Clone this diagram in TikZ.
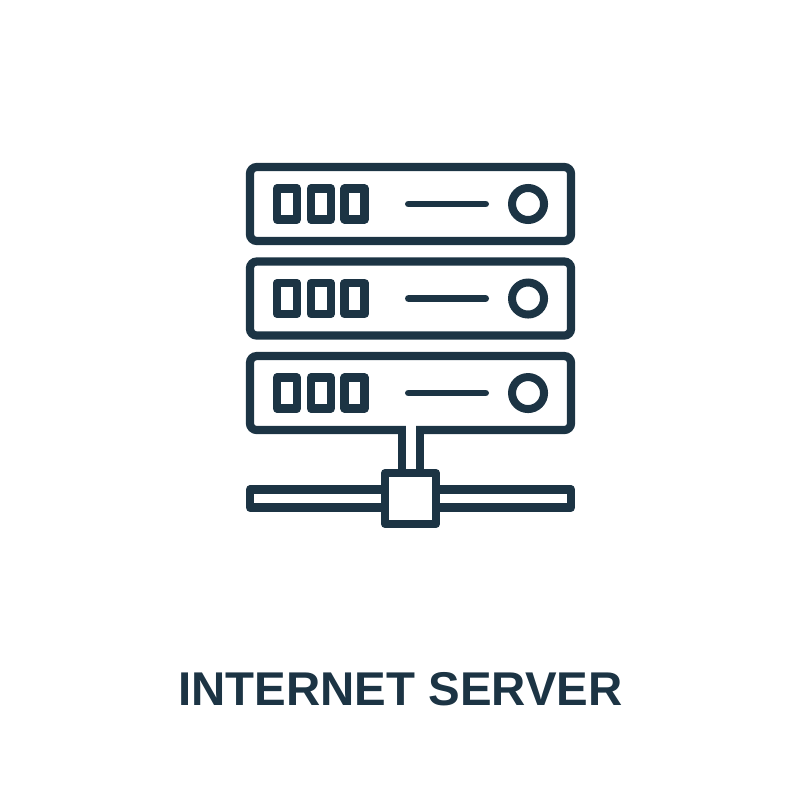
\documentclass[tikz,border=0pt]{standalone}
\usepackage{fontspec}
\setmainfont{Liberation Sans}
\usetikzlibrary{positioning}
\definecolor{iconink}{HTML}{1C3444}
\tikzset{
    rackbox/.style={draw=iconink, line width=0.205cm, rounded corners=0.17cm, inner sep=0, outer sep=0, minimum width=8.025cm, minimum height=1.85cm},
    slotbox/.style={draw=iconink, line width=0.205cm, line join=round, inner sep=0, outer sep=0, minimum width=0.5cm, minimum height=0.775cm},
    lampbox/.style={draw=iconink, line width=0.2cm, circle, inner sep=0, outer sep=0, minimum size=0.8cm},
    busbox/.style={draw=iconink, line width=0.205cm, line join=round, inner sep=0, outer sep=0, minimum width=3.375cm, minimum height=0.45cm},
    hubbox/.style={draw=iconink, line width=0.205cm, line join=round, inner sep=0, outer sep=0, minimum width=1.275cm, minimum height=1.275cm},
    inkline/.style={draw=iconink, line width=0.205cm},
}
\begin{document}
\begin{tikzpicture}[x=0.025cm, y=-0.025cm]
    \useasboundingbox (0,0) rectangle (800,800);
    \node[rackbox] (rackOne) at (410.5, 204) {};
    \node[rackbox, below = 0.5125cm of rackOne] (rackTwo) {};
    \node[rackbox, below = 0.5125cm of rackTwo] (rackThree) {};

    % slots, bar and lamp of each rack
    \foreach \rack in {rackOne, rackTwo, rackThree} {
        \node[slotbox, right = 0.675cm of \rack.west] (\rack SlotA) {};
        \node[slotbox, right = 0.345cm of \rack SlotA] (\rack SlotB) {};
        \node[slotbox, right = 0.345cm of \rack SlotB] (\rack SlotC) {};
        \node[lampbox, left = 0.675cm of \rack.east] (\rack Lamp) {};
        \coordinate[right = 3.96cm of \rack.west] (\rack BarA);
        \coordinate[right = 5.89cm of \rack.west] (\rack BarB);
        \draw[inkline, line width=0.17cm, line cap=round] (\rack BarA) -- (\rack BarB);
    }

    \node[hubbox] (hub) at (410.5, 498.5) {};
    \node[busbox, left = 0cm of hub] (busLeft) {};
    \node[busbox, right = 0cm of hub] (busRight) {};
    \draw[draw=white, line width=0.25cm] ([yshift=0.14cm]rackThree.south) -- ([yshift=-0.14cm]rackThree.south);
    \draw[inkline] ([xshift=-0.21cm, yshift=0.1cm]rackThree.south) -- ([xshift=-0.21cm]hub.north);
    \draw[inkline] ([xshift=0.24cm, yshift=0.1cm]rackThree.south) -- ([xshift=0.24cm]hub.north);

    \node[text=iconink, inner sep=0] (title) at (400.5, 689) {\fontsize{33.7}{34}\selectfont\bfseries INTERNET SERVER};
\end{tikzpicture}
\end{document}
